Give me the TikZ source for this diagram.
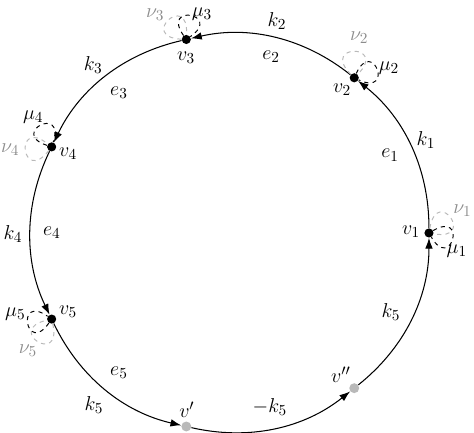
\documentclass[tikz,border=0pt]{standalone}
\usetikzlibrary{arrows.meta}

\begin{document}
\begin{tikzpicture}[
    every node/.style={font=\fontsize{15.5}{18}\selectfont},
    vert/.style={circle, fill=black, inner sep=0pt, minimum size=2.3mm},
    aux/.style={circle, fill=gray!55, inner sep=0pt, minimum size=2.5mm},
    edge/.style={line width=0.75pt, -{Latex[length=2.7mm,width=1.9mm]}, bend right=25.7, looseness=0.93},
    muloop/.style={dashed, line width=0.7pt, min distance=10mm},
    nuloop/.style={dashed, gray!55, line width=0.7pt, min distance=11mm},
    nulabel/.style={text=gray!90}
]
    \useasboundingbox (-5.806,-5.038) rectangle (6.134,5.869);

    % vertices on the cycle
    \node[vert] (v1) at (0:5) {};
    \node[vert] (v2) at (51.43:5) {};
    \node[vert] (v3) at (102.86:5) {};
    \node[vert] (v4) at (154.29:5) {};
    \node[vert] (v5) at (205.71:5) {};
    \node[aux] (vp) at (257.14:5) {};
    \node[aux] (vpp) at (308.57:5) {};

    % edges
    \draw[edge] (v1) to (v2);
    \draw[edge] (v2) to (v3);
    \draw[edge] (v3) to (v4);
    \draw[edge] (v4) to (v5);
    \draw[edge] (v5) to (vp);
    \draw[edge] (vp) to (vpp);
    \draw[edge] (vpp) to (v1);

    % loops
    \draw[nuloop] (v1) to[out=80, in=-10] (v1);
    \draw[muloop] (v1) to[out=30, in=-60] (v1);
    \draw[nuloop] (v2) to[out=135, in=45] (v2);
    \draw[muloop] (v2) to[out=65, in=-25] (v2);
    \draw[nuloop] (v3) to[out=177, in=87] (v3);
    \draw[muloop] (v3) to[out=125, in=35] (v3);
    \draw[nuloop] (v4) to[out=232, in=142] (v4);
    \draw[muloop] (v4) to[out=162, in=72] (v4);
    \draw[nuloop] (v5) to[out=283, in=193] (v5);
    \draw[muloop] (v5) to[out=235, in=145] (v5);

    % vertex labels
    \node at (4.55,0.03) (lv1) {$v_1$};
    \node at (2.81,3.60) (lv2) {$v_2$};
    \node at (-1.12,4.41) (lv3) {$v_3$};
    \node at (-4.09,1.99) (lv4) {$v_4$};
    \node at (-4.09,-1.99) (lv5) {$v_5$};
    \node at (-1.10,-4.46) (lvp) {$v'$};
    \node at (2.78,-3.58) (lvpp) {$v''$};

    % edge labels
    \node at (4.92,2.34) (K1) {$k_1$};
    \node at (4.02,1.96) (E1) {$e_1$};
    \node at (1.17,5.34) (K2) {$k_2$};
    \node at (1.02,4.43) (E2) {$e_2$};
    \node at (-3.46,4.23) (K3) {$k_3$};
    \node at (-2.81,3.53) (E3) {$e_3$};
    \node at (-5.48,-0.03) (K4) {$k_4$};
    \node at (-4.50,0) (E4) {$e_4$};
    \node at (-3.44,-4.33) (K5) {$k_5$};
    \node at (-2.81,-3.53) (E5) {$e_5$};
    \node at (0.99,-4.38) (MK5) {$-k_5$};
    \node at (4.04,-1.99) (K5b) {$k_5$};

    % loop labels
    \node[nulabel] at (5.84,0.57) (N1) {$\nu_1$};
    \node at (5.70,-0.45) (M1) {$\mu_1$};
    \node[nulabel] at (3.24,4.93) (N2) {$\nu_2$};
    \node at (3.99,4.16) (M2) {$\mu_2$};
    \node[nulabel] at (-1.90,5.49) (N3) {$\nu_3$};
    \node at (-0.72,5.51) (M3) {$\mu_3$};
    \node[nulabel] at (-5.55,2.09) (N4) {$\nu_4$};
    \node at (-4.97,2.92) (M4) {$\mu_4$};
    \node[nulabel] at (-5.10,-2.97) (N5) {$\nu_5$};
    \node at (-5.42,-2.04) (M5) {$\mu_5$};
\end{tikzpicture}
\end{document}
